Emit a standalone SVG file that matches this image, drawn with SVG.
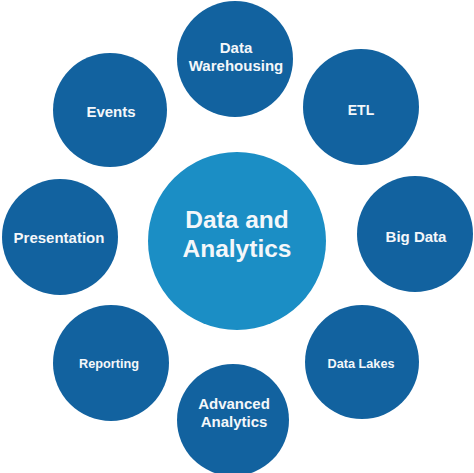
<svg xmlns="http://www.w3.org/2000/svg" width="474" height="473" viewBox="0 0 474 473">
<style>
.outer{fill:#12629f}
.center{fill:#1b8ec5}
text{font-family:"Liberation Sans",Arial,sans-serif;font-weight:bold;fill:#f4f7fa;text-anchor:middle}
.s15{font-size:15px}
.s13{font-size:12.7px}
.s14{font-size:14px}
.big{font-size:24.5px}
</style>
<rect width="474" height="473" fill="#ffffff"/>
<g id="connectors"></g>
<g id="center-node"><circle class="center" cx="237" cy="241" r="89"/><text class="big" x="237" y="228">Data and</text><text class="big" x="237" y="257">Analytics</text></g>
<g id="data-warehousing"><circle class="outer" cx="235" cy="59" r="58"/><text class="s15" x="236" y="53">Data</text><text class="s15" x="236" y="71">Warehousing</text></g>
<g id="etl"><circle class="outer" cx="361" cy="107" r="58"/><text class="s14" x="361" y="115">ETL</text></g>
<g id="big-data"><circle class="outer" cx="415" cy="234" r="58"/><text class="s15" x="416" y="242">Big Data</text></g>
<g id="data-lakes"><circle class="outer" cx="362" cy="362" r="57"/><text class="s13" x="361" y="368">Data Lakes</text></g>
<g id="advanced-analytics"><circle class="outer" cx="233" cy="420" r="56"/><text class="s15" x="234" y="409">Advanced</text><text class="s15" x="234" y="427">Analytics</text></g>
<g id="reporting"><circle class="outer" cx="111" cy="363" r="58"/><text class="s13" x="109" y="368">Reporting</text></g>
<g id="presentation"><circle class="outer" cx="60" cy="237" r="58"/><text class="s15" x="59" y="243">Presentation</text></g>
<g id="events"><circle class="outer" cx="110" cy="110" r="57"/><text class="s15" x="111" y="117">Events</text></g>
</svg>
